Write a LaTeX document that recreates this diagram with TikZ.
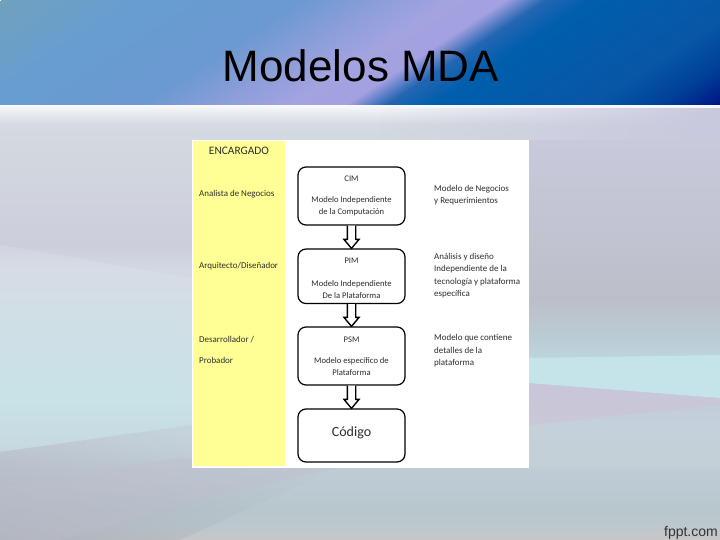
\documentclass[tikz,border=0pt]{standalone}
\usepackage{fontspec}
\setmainfont{Carlito}
\newfontfamily\arialfont{Liberation Sans}
\usetikzlibrary{fadings,calc}
\definecolor{sheetyellow}{RGB}{255,255,150}
\definecolor{inktext}{RGB}{45,45,45}
\definecolor{cyanband}{RGB}{196,228,233}
\definecolor{pinkband}{RGB}{204,196,216}
\definecolor{lilac}{RGB}{200,200,222}
\definecolor{mauve}{RGB}{192,190,205}
\definecolor{slate}{RGB}{168,176,186}
\definecolor{softfill}{RGB}{195,212,220}
\pgfdeclarehorizontalshading{hdrshade}{105bp}{
  rgb(0bp)=(.44,.63,.74);
  rgb(150bp)=(.40,.62,.82);
  rgb(300bp)=(.42,.60,.82);
  rgb(380bp)=(.55,.62,.85);
  rgb(450bp)=(.64,.64,.88);
  rgb(505bp)=(.64,.63,.88);
  rgb(545bp)=(.14,.40,.70);
  rgb(590bp)=(.00,.37,.68);
  rgb(750bp)=(.03,.34,.65);
  rgb(820bp)=(.00,.25,.60);
  rgb(880bp)=(.00,.07,.52)}
% positions measured upward from y=540
\pgfdeclareverticalshading{bodybase}{720bp}{
  rgb(0bp)=(.78,.78,.77);
  rgb(10bp)=(.75,.78,.80);
  rgb(30bp)=(.72,.78,.80);
  rgb(70bp)=(.75,.80,.84);
  rgb(95bp)=(.78,.85,.88);
  rgb(140bp)=(.78,.89,.91);
  rgb(270bp)=(.82,.85,.89);
  rgb(295bp)=(.80,.81,.86);
  rgb(415bp)=(.83,.855,.88);
  rgb(428bp)=(.92,.93,.95);
  rgb(435bp)=(.98,.98,.99)}
% positions measured upward from y=467
\pgfdeclareverticalshading{bodyright}{191bp}{
  rgb(0bp)=(.77,.81,.84);
  rgb(40bp)=(.77,.82,.86);
  rgb(60bp)=(.76,.81,.86);
  rgb(110bp)=(.74,.83,.87);
  rgb(130bp)=(.73,.80,.83);
  rgb(167bp)=(.735,.75,.79);
  rgb(327bp)=(.785,.79,.86)}
\tikzfading[name=fadeeast, left color=transparent!100, right color=transparent!0]
\tikzfading[name=fadewest, left color=transparent!0, right color=transparent!100]
\tikzfading[name=fadesouth, top color=transparent!0, bottom color=transparent!100]
\tikzset{
  flowbox/.style={draw=black, line width=1.2bp, rounded corners=8bp, fill=white,
    minimum width=107bp, inner sep=0pt, align=center, text=inktext,
    font=\fontsize{8.6bp}{12.2bp}\selectfont},
  sidelabel/.style={anchor=west, inner sep=0pt, align=left, text=inktext,
    font=\fontsize{8.95bp}{12.4bp}\selectfont},
  arrowline/.style={draw=black, line width=1.4bp, fill=white, line join=miter},
}
\newcommand{\hollowarrow}[2]{%
  \draw[arrowline] ([xshift=-4.2bp]#1.south) -- ([xshift=-4.2bp,yshift=9bp]#2.north)
    -- ([xshift=-7.5bp,yshift=9bp]#2.north) -- (#2.north)
    -- ([xshift=7.5bp,yshift=9bp]#2.north) -- ([xshift=4.2bp,yshift=9bp]#2.north)
    -- ([xshift=4.2bp]#1.south);}
\begin{document}
\begin{tikzpicture}[x=1bp,y=-1bp]
\useasboundingbox (0,0) rectangle (720,540);
% body background
\node[anchor=south west, inner sep=0pt] (bgbody) at (0,540) {\pgfuseshading{bodybase}};
\fill[white, opacity=.12, path fading=fadesouth] (0,245) .. controls (70,256) and (130,268) .. (192,278) -- (192,420) -- (0,420) -- cycle;
\shade[top color=mauve!60!softfill, bottom color=slate, opacity=.85, path fading=fadewest]
  (0,452) -- (192,425) -- (340,467) -- (180,540) -- (0,540) -- cycle;
\fill[mauve, opacity=.35] (0,488) -- (180,458) -- (342,467) -- (180,505) -- (60,540) -- (0,540) -- cycle;
\fill[lilac, path fading=fadeeast] (380,108) rectangle (720,142);
% right side bands
\node[anchor=south west, inner sep=0pt] (bgright) at (529,467) {\pgfuseshading{bodyright}};
\fill[pinkband, opacity=.75] (529,383) -- (720,396) -- (720,405) -- (529,425) -- cycle;
\fill[cyanband] (529,358) -- (720,355) -- (720,398) -- (529,383) -- cycle;
% header band
\begin{scope}
  \clip (0,0) rectangle (720,105);
  \begin{scope}[shift={(-160,105)}, xslant=1.524]
    \node[transform shape, anchor=south west, inner sep=0pt] (bghdr) at (0,0) {\pgfuseshading{hdrshade}};
  \end{scope}
\end{scope}
% title
\node[anchor=base, inner sep=0pt, font=\arialfont\fontsize{44bp}{48bp}\selectfont] (title) at (361,82) {Modelos MDA};
\node[anchor=base east, inner sep=0pt, text=black!80, font=\arialfont\fontsize{14bp}{16bp}\selectfont] (brand) at (718,536) {fppt.com};
% embedded sheet
\fill[white] (192,140) rectangle (529,468);
\fill[sheetyellow] (193,141) rectangle (285,466);
% left column
\node[sidelabel, anchor=center, font=\fontsize{11.4bp}{13bp}\selectfont] (encargado) at (239,151) {ENCARGADO};
\node[sidelabel] (analista) at (199,194) {Analista de Negocios};
\node[sidelabel] (arquitecto) at (199,266) {Arquitecto/Diseñador};
\node[sidelabel] (desarrollador) at (199,340) {Desarrollador /};
\node[sidelabel] (probador) at (199,360) {Probador};
% flow boxes
\node[flowbox, minimum height=58bp] (cim) at (351.5,196) {CIM\\[8.5bp]Modelo Independiente\\de la Computación};
\node[flowbox, minimum height=54.5bp] (pim) at (351.5,276.3) {\rule{0pt}{10bp}PIM\\[10.5bp]Modelo Independiente\\De la Plataforma};
\node[flowbox, minimum height=58bp] (psm) at (351.5,356) {PSM\\[8.5bp]Modelo específico  de\\Plataforma};
\node[flowbox, minimum height=53bp, font=\fontsize{14bp}{16bp}\selectfont] (codigo) at (351.5,435.5) {\raisebox{7bp}{Código}};
\hollowarrow{cim}{pim}
\hollowarrow{pim}{psm}
\hollowarrow{psm}{codigo}
% right column
\node[sidelabel] (notecim) at (434,195) {Modelo de Negocios\\y Requerimientos};
\node[sidelabel] (notepim) at (434,275.5) {Análisis y diseño\\Independiente de la\\tecnología y plataforma\\específica};
\node[sidelabel] (notepsm) at (434,351) {Modelo que contiene\\detalles de la\\plataforma};
\end{tikzpicture}
\end{document}
